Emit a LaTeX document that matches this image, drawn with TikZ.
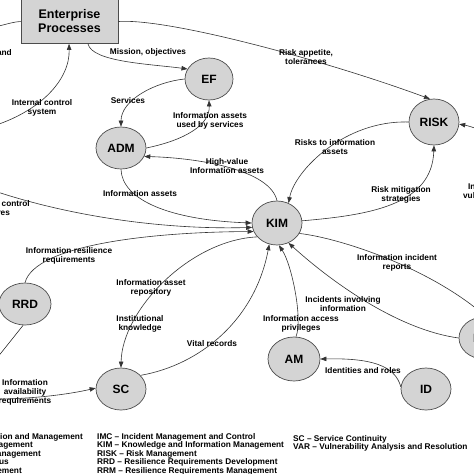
\documentclass[tikz,border=0pt]{standalone}
\usepackage{fontspec}
\setmainfont{Liberation Sans}
\usetikzlibrary{shapes.geometric,arrows.meta}
\begin{document}
\begin{tikzpicture}[x=1pt,y=-1pt,
  proc/.style={ellipse, draw=black!70, fill=black!17, line width=0.7pt, inner sep=0pt,
    font=\fontsize{12}{14}\selectfont\bfseries},
  procbox/.style={rectangle, draw=black!70, fill=black!17, line width=0.7pt, inner sep=0pt,
    align=center, font=\fontsize{12.5}{14}\selectfont\bfseries},
  flow/.style={draw=black!80, line width=0.6pt},
  arr/.style={flow, -{Triangle[length=6pt,width=4.5pt]}},
  lbl/.style={font=\fontsize{8.3}{9}\selectfont\bfseries, align=center, inner sep=0pt},
  legw/.style={font=\fontsize{8.3}{9}\selectfont\bfseries, inner sep=0pt, anchor=base west},
  lege/.style={font=\fontsize{8.3}{9}\selectfont\bfseries, inner sep=0pt, anchor=base east}
]
\useasboundingbox (0,0) rectangle (474,474);
\clip (0,0) rectangle (474,474);

% nodes
\node[procbox, minimum width=97pt, minimum height=44pt] (EP) at (69.5,21.5) {Enterprise\\Processes};
\node[proc, minimum width=48pt, minimum height=42pt] (EF) at (209,79) {EF};
\node[proc, minimum width=50pt, minimum height=42pt] (ADM) at (121,148) {ADM};
\node[proc, minimum width=50pt, minimum height=46pt] (RISK) at (434,122) {RISK};
\node[proc, minimum width=50pt, minimum height=44pt] (KIM) at (277,223) {KIM};
\node[proc, minimum width=52pt, minimum height=42pt] (RRD) at (25,304) {RRD};
\node[proc, minimum width=50pt, minimum height=42pt] (SC) at (121,389) {SC};
\node[proc, minimum width=52pt, minimum height=44pt] (AM) at (294,359) {AM};
\node[proc, minimum width=50pt, minimum height=42pt] (ID) at (426,389) {ID};
\node[proc, minimum width=50pt, minimum height=42pt] (IMC) at (484,338) {IMC};

% free ends beyond the picture edge
\coordinate (offA) at (-30,32);
\coordinate (offB) at (-10,127);
\coordinate (offC) at (-20,186);
\coordinate (offD) at (-30,292);
\coordinate (offE) at (-15,373);
\coordinate (offF) at (-20,399);
\coordinate (offG) at (500,330);
\coordinate (offH) at (500,135);

% connectors
\draw[flow] (offA) .. controls (0,27) and (10,22) .. (EP.west);
\draw[arr] (offB) .. controls (40,112) and (70,80) .. ([xshift=-0.5pt]EP.south);
\draw[arr] ([xshift=18.5pt]EP.south) .. controls (92,62) and (150,64) .. (EF.155);
\draw[arr] (EP.east) .. controls (170,18) and (330,62) .. (RISK.100);
\draw[arr] (EF.180) .. controls (155,82) and (121,100) .. (ADM.north);
\draw[arr] (ADM.east) .. controls (185,140) and (210,125) .. (EF.south);
\draw[arr] (KIM.north) .. controls (270,170) and (200,158) .. (ADM.340);
\draw[arr] (ADM.south) .. controls (122,200) and (170,220) .. (KIM.180);
\draw[arr] (offC) .. controls (60,215) and (160,230) .. (KIM.190);
\draw[arr] (RRD.north) .. controls (35,245) and (150,232) .. (KIM.200);
\draw[arr] (KIM.215) .. controls (190,240) and (122,310) .. (SC.north);
\draw[arr] (SC.35) .. controls (200,365) and (255,320) .. (KIM.250);
\draw[arr] (AM.85) .. controls (303,320) and (292,265) .. (KIM.275);
\draw[arr] (IMC.180) .. controls (400,330) and (335,285) .. (KIM.300);
\draw[arr] (KIM.335) .. controls (340,238) and (440,270) .. (offG);
\draw[arr] (RISK.180) .. controls (345,120) and (295,170) .. (KIM.60);
\draw[arr] (KIM.5) .. controls (370,215) and (432,205) .. (RISK.south);
\draw[arr] (offH) .. controls (485,132) and (470,126) .. (RISK.355);
\draw[arr] (ID.175) .. controls (395,365) and (370,358) .. (AM.east);
\draw[arr] (offF) .. controls (30,400) and (70,394) .. (SC.178);
\draw[flow] (offD) .. controls (-15,294) and (-5,297) .. (RRD.165);
\draw[flow] (RRD.265) -- (offE);

% connector labels
\node[lbl, anchor=east] (lAnd) at (12,53) {and};
\node[lbl] (lICS) at (42,108) {Internal control\\system};
\node[lbl] (lMis) at (148,52) {Mission, objectives};
\node[lbl] (lRA) at (306,57.5) {Risk appetite,\\tolerances};
\node[lbl] (lSrv) at (128,101) {Services};
\node[lbl] (lIAU) at (210,121) {Information assets\\used by services};
\node[lbl] (lRTI) at (335,147.5) {Risks to information\\assets};
\node[lbl] (lHV) at (227,166) {High-value\\Information assets};
\node[lbl] (lIA) at (140,194) {Information assets};
\node[lbl, align=left, anchor=east] (lICStr) at (30,208.5) {Internal control\\structures};
\node[lbl] (lIRR) at (69,255.5) {Information resilience\\requirements};
\node[lbl] (lIAR) at (151,287.5) {Information asset\\repository};
\node[lbl] (lInst) at (140,323.5) {Institutional\\knowledge};
\node[lbl] (lVR) at (212,344) {Vital records};
\node[lbl] (lIIR) at (397,263) {Information incident\\reports};
\node[lbl] (lIII) at (343,304) {Incidents involving\\information};
\node[lbl] (lIAP) at (301,323.5) {Information access\\privileges};
\node[lbl] (lIR) at (363,371) {Identities and roles};
\node[lbl] (lRMS) at (401,194.5) {Risk mitigation\\strategies};
\node[lbl] (lIV) at (491,191.5) {Information\\vulnerabilities};
\node[lbl] (lIAvR) at (25,392) {Information\\availability\\requirements};

% legend
\node[lege] (g1) at (83,439) {ADM -- Asset Definition and Management};
\node[lege] (g2) at (33,447.5) {AM -- Access Management};
\node[lege] (g3) at (41,456) {CTRL -- Controls Management};
\node[lege] (g4) at (9,464.5) {EF -- Enterprise Focus};
\node[lege] (g5) at (22,473) {ID -- Identity Management};
\node[legw] (g6) at (97,439) {IMC -- Incident Management and Control};
\node[legw] (g7) at (97,447.5) {KIM -- Knowledge and Information Management};
\node[legw] (g8) at (97,456) {RISK -- Risk Management};
\node[legw] (g9) at (97,464.5) {RRD -- Resilience Requirements Development};
\node[legw] (g10) at (97,473) {RRM -- Resilience Requirements Management};
\node[legw] (g11) at (293,441) {SC -- Service Continuity};
\node[legw] (g12) at (293,449.5) {VAR -- Vulnerability Analysis and Resolution};
\end{tikzpicture}
\end{document}
